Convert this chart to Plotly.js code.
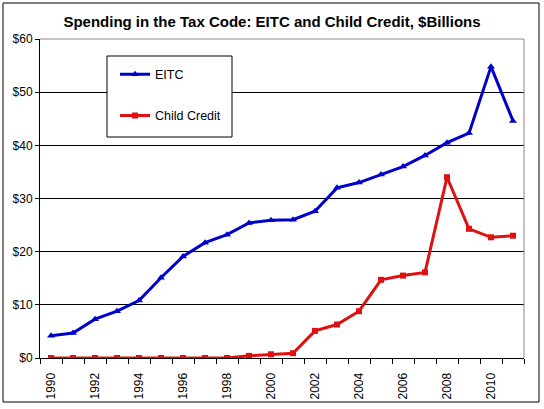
<!DOCTYPE html>
<html>
<head>
<meta charset="utf-8">
<script src="https://cdn.plot.ly/plotly-3.0.1.min.js"></script>
<style>html,body{margin:0;padding:0;background:#fff;}#chart{width:544px;height:409px;}</style>
</head>
<body>
<div id="chart"></div>
<script>
const years = [1990,1991,1992,1993,1994,1995,1996,1997,1998,1999,2000,2001,2002,2003,2004,2005,2006,2007,2008,2009,2010,2011];
const eitc = [4.2,4.7,7.3,8.8,10.8,15.1,19.1,21.7,23.2,25.4,25.9,26.0,27.6,32.0,33.0,34.5,36.0,38.1,40.5,42.3,54.8,44.6];
const childCredit = [0,0,0,0,0,0,0,0,0,0.4,0.7,0.9,5.1,6.3,8.8,14.7,15.5,16.1,34.0,24.3,22.7,23.0];
const yTicks = [0,10,20,30,40,50,60];
const xLabelYears = years.filter(y => y % 2 === 0);
const boundaries = years.map(y => y - 0.5).concat([years[years.length-1] + 0.5]);

const FONT = 'Arial, "Liberation Sans", sans-serif';
const PW = 484, PH = 319, PL = 40, PB = 358;
const px = x => (x - PL) / PW;
const py = y => (PB - y) / PH;

const traces = [
  {x: years, y: eitc, name: 'EITC', type: 'scatter', mode: 'lines+markers',
   line: {color: '#0000CC', width: 3}, marker: {symbol: 'triangle-up', size: 7, color: '#0000CC'},
   legendgroup: 'a'},
  {x: years, y: childCredit, name: 'Child Credit', type: 'scatter', mode: 'lines+markers',
   line: {color: '#E01010', width: 3}, marker: {symbol: 'square', size: 6, color: '#E01010'},
   legendgroup: 'b'}
];

const layout = {
  width: 544, height: 409,
  margin: {l: 40, r: 20, t: 39, b: 51},
  paper_bgcolor: '#fff', plot_bgcolor: '#fff',
  font: {family: FONT, size: 12, color: '#000'},
  title: {text: 'Spending in the Tax Code: EITC and Child Credit, $Billions',
          font: {family: FONT, size: 15, weight: 'bold', color: '#000'},
          xref: 'container', x: 0.5, xanchor: 'center',
          yref: 'container', y: 1 - 22/409, yanchor: 'middle'},
  xaxis: {type: 'linear', range: [years[0]-0.5, years[years.length-1]+0.5],
          tickmode: 'array', tickvals: xLabelYears, ticktext: xLabelYears.map(String),
          tickangle: -90, ticks: 'outside', ticklen: 9, tickcolor: 'rgba(0,0,0,0)',
          showgrid: false, zeroline: false, showline: true, linecolor: '#000', linewidth: 1,
          tickfont: {family: FONT, size: 12},
          minor: {tickmode: 'array', tickvals: boundaries, ticks: 'outside', ticklen: 5, tickcolor: '#000', showgrid: false}},
  yaxis: {range: [0, 60], tickmode: 'array', tickvals: yTicks, ticktext: yTicks.map(v => '$' + v),
          ticks: 'outside', ticklen: 4, tickcolor: '#000',
          showgrid: true, gridcolor: '#000', gridwidth: 1, zeroline: false,
          showline: true, linecolor: '#000', linewidth: 1,
          tickfont: {family: FONT, size: 12}},
  legend: {x: px(115), y: py(59.7), xanchor: 'left', yanchor: 'top',
           bgcolor: 'rgba(0,0,0,0)', borderwidth: 0,
           font: {family: FONT, size: 12.5}, traceorder: 'grouped', tracegroupgap: 22,
           itemwidth: 30},
  showlegend: true,
  shapes: [
    {type: 'line', xref: 'paper', yref: 'paper', x0: 0, x1: 1, y0: 1, y1: 1, line: {color: '#888', width: 1}, layer: 'above'},
    {type: 'line', xref: 'paper', yref: 'paper', x0: 1, x1: 1, y0: 0, y1: 1, line: {color: '#888', width: 1}, layer: 'above'},
    {type: 'rect', xref: 'paper', yref: 'paper', x0: px(107), x1: px(232), y0: py(137), y1: py(56),
     line: {color: '#000', width: 1}, fillcolor: '#fff', layer: 'above'},
    {type: 'rect', xref: 'paper', yref: 'paper', x0: px(3), x1: px(539), y0: py(402), y1: py(3),
     line: {color: '#000', width: 1}, fillcolor: 'rgba(0,0,0,0)', layer: 'below'}
  ]
};

Plotly.newPlot('chart', traces, layout, {displayModeBar: false, staticPlot: true});
</script>
</body>
</html>
